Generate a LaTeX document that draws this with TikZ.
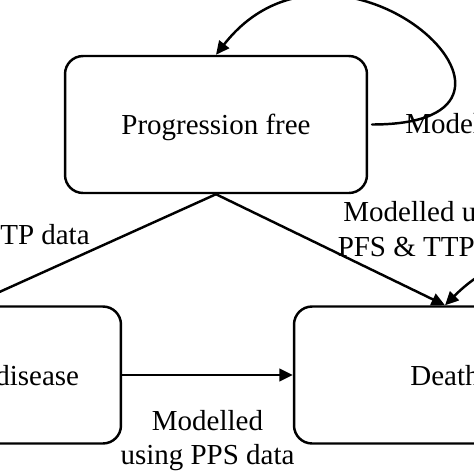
\documentclass[tikz,border=0pt]{standalone}
\usepackage{fontspec}
\setmainfont{Liberation Serif}
\usepackage{tikz}
\usetikzlibrary{arrows.meta,positioning}
\tikzstyle{state} = [draw, line width=1.4pt, rounded corners=0.36cm, minimum width=6.04cm, minimum height=2.74cm, text depth=0pt, font=\fontsize{16.5}{19.5}\selectfont]
\tikzstyle{lbl} = [inner sep=0pt, align=center, font=\fontsize{16.5}{19.5}\selectfont]
\tikzset{
  line/.style ={draw, line width=1.4pt, ->},
  selfloop/.style={line, out=0, out distance=4.3cm, in distance=4cm}
}

\begin{document}
\begin{tikzpicture}[line cap=round,line join=round,>={Triangle[length=0.27cm,width=0.25cm]},x=0.02cm,y=0.02cm]
\useasboundingbox (0,0) rectangle (474,-474);
\clip (0,0) rectangle (474,-474);
\node[state] (free) at (216,-124.5) {Progression free};
\node[state] (prog) at (-30,-375) {Progressed disease};
\node[state] (death) at (445,-375) {Death};
\path[line] (free.south) -- (prog.north);
\path[line] (free.south) -- (death.north);
\path[line] (prog) -- node[lbl, below=0.68cm] {Modelled\\using PPS data} (death);
\path[selfloop, shorten <=0.08cm] (free.east) to[in=52] (free.north);
\path[selfloop] (death.east) to[in=45] (death.north);
\node[lbl, anchor=base east] (ttp) at (90,-244) {TTP data};
\node[lbl] (pfsttp) at (434,-229) {Modelled using\\PFS \& TTP data};
\node[lbl, anchor=base west] (pfs) at (405,-133) {Modelled using PFS data};
\end{tikzpicture}
\end{document}
